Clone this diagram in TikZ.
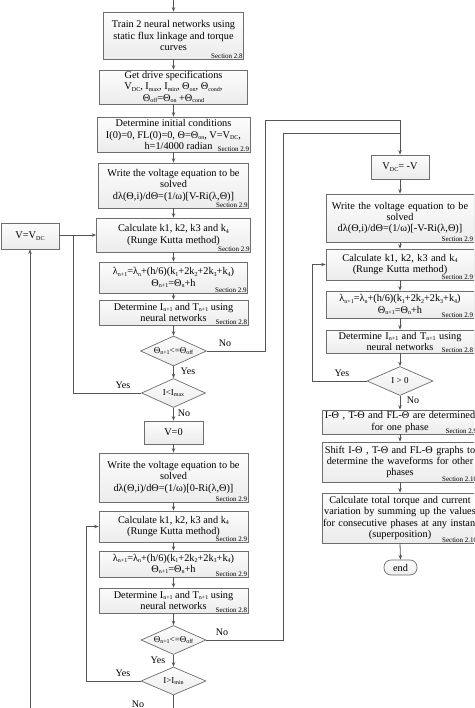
\documentclass[tikz,border=0pt]{standalone}
\usepackage{fontspec}
\setmainfont{Liberation Serif}
\usetikzlibrary{shapes.geometric,arrows.meta}
\definecolor{boxc}{HTML}{6E6E6E}
\definecolor{linec}{HTML}{555555}
\newcommand\ssb[1]{\raisebox{-1.4pt}{\fontsize{6}{6}\selectfont #1}}
\begin{document}
\begin{tikzpicture}[x=1pt,y=-1pt,
 box/.style={draw=boxc, line width=0.7pt, top color=gray!2, bottom color=gray!15, align=center, inner sep=1pt, font=\fontsize{10.3}{11.3}\selectfont, text=black},
 rbox/.style={box, text width=#1},
 dia/.style={shape=diamond, aspect=2.3, draw=boxc, line width=0.7pt, top color=gray!2, bottom color=gray!15, inner sep=0pt, font=\fontsize{9}{10}\selectfont},
 sec/.style={anchor=south east, inner sep=1pt, font=\fontsize{7}{8}\selectfont},
 lbl/.style={font=\fontsize{10}{11}\selectfont, inner sep=0pt},
 arr/.style={draw=linec, line width=0.8pt, -{Stealth[length=4.5pt,width=3.5pt]}},
 ln/.style={draw=linec, line width=0.8pt}]
\useasboundingbox (0,0) rectangle (474,708);
\clip (0,0) rectangle (474,708);
% left column
\node[box, minimum width=140, minimum height=47] (b1) at (173.5,35.5) {Train 2 neural networks using\\static flux linkage and torque\\curves};
\node[sec] (s1) at (b1.south east) {Section 2.8};
\node[box, minimum width=148, minimum height=34] (b2) at (173.5,87) {Get drive specifications\\V\ssb{DC}, I\ssb{max}, I\ssb{min}, Θ\ssb{on}, Θ\ssb{cond},\\Θ\ssb{off}=Θ\ssb{on} +Θ\ssb{cond}};
\node[box, minimum width=153, minimum height=35] (b3) at (173.5,134.5) {Determine initial conditions\\I(0)=0, FL(0)=0, Θ=Θ\ssb{on}, V=V\ssb{DC},\\\hspace*{10pt}h=1/4000 radian};
\node[sec] (s3) at (b3.south east) {Section 2.9};
\node[box, minimum width=150, minimum height=45] (b4) at (173.5,185.5) {Write the voltage equation to be\\solved\\dλ(Θ,i)/dΘ=(1/ω)[V-Ri(λ,Θ)]};
\node[sec] (s4) at (b4.south east) {Section 2.9};
\node[box, minimum width=154, minimum height=34] (b5) at (173.5,235) {Calculate k1, k2, k3 and k\ssb{4}\\(Runge Kutta method)};
\node[sec] (s5) at (b5.south east) {Section 2.9};
\node[box, minimum width=148, minimum height=31] (b6) at (173.5,277.5) {λ\ssb{n+1}=λ\ssb{n}+(h/6)(k\ssb{1}+2k\ssb{2}+2k\ssb{3}+k\ssb{4})\\Θ\ssb{n+1}=Θ\ssb{n}+h};
\node[sec] (s6) at (b6.south east) {Section 2.9};
\node[box, minimum width=149, minimum height=25] (b7) at (173.5,312.5) {Determine I\ssb{n+1} and T\ssb{n+1} using\\neural networks};
\node[sec] (s7) at (b7.south east) {Section 2.8};
\node[dia, minimum width=66, minimum height=30] (d1) at (173.5,351) {Θ\ssb{n+1}<=Θ\ssb{off}};
\node[dia, minimum width=64, minimum height=29] (d2) at (173.5,393) {I<I\ssb{max}};
\node[box, minimum width=59, minimum height=23] (b8) at (173.5,432.5) {V=0};
\node[box, minimum width=149, minimum height=49] (b9) at (173.5,477.5) {Write the voltage equation to be\\solved\\dλ(Θ,i)/dΘ=(1/ω)[0-Ri(λ,Θ)]};
\node[sec] (s9) at (b9.south east) {Section 2.9};
\node[box, minimum width=149, minimum height=31] (b10) at (173.5,526.5) {Calculate k1, k2, k3 and k\ssb{4}\\(Runge Kutta method)};
\node[sec] (s10) at (b10.south east) {Section 2.9};
\node[box, minimum width=149, minimum height=26] (b11) at (173.5,564) {λ\ssb{n+1}=λ\ssb{n}+(h/6)(k\ssb{1}+2k\ssb{2}+2k\ssb{3}+k\ssb{4})\\Θ\ssb{n+1}=Θ\ssb{n}+h};
\node[sec] (s11) at (b11.south east) {Section 2.9};
\node[box, minimum width=149, minimum height=25] (b12) at (173.5,600.5) {Determine I\ssb{n+1} and T\ssb{n+1} using\\neural networks};
\node[sec] (s12) at (b12.south east) {Section 2.8};
\node[dia, minimum width=65, minimum height=29] (d3) at (173.5,640) {Θ\ssb{n+1}<=Θ\ssb{off}};
\node[dia, minimum width=65, minimum height=28] (d4) at (173.5,681) {I>I\ssb{min}};
\node[box, minimum width=58, minimum height=26] (v0) at (30,236) {V=V\ssb{DC}};
% right column
\node[box, minimum width=58, minimum height=24] (r1) at (400,167) {V\ssb{DC}= -V};
\node[rbox=146, minimum height=48] (r2) at (400,218) {Write the voltage equation to be\\solved\\dλ(Θ,i)/dΘ=(1/ω)[-V-Ri(λ,Θ)]};
\node[sec] (t2) at (r2.south east) {Section 2.9};
\node[rbox=146, minimum height=31] (r3) at (400,264.5) {Calculate k1, k2, k3 and k\ssb{4}\\(Runge Kutta method)};
\node[sec] (t3) at (r3.south east) {Section 2.9};
\node[rbox=146, minimum height=27] (r4) at (400,304.5) {λ\ssb{n+1}=λ\ssb{n}+(h/6)(k\ssb{1}+2k\ssb{2}+2k\ssb{3}+k\ssb{4})\\Θ\ssb{n+1}=Θ\ssb{n}+h};
\node[sec] (t4) at (r4.south east) {Section 2.9};
\node[rbox=146, minimum height=23] (r5) at (400,341.5) {Determine I\ssb{n+1} and T\ssb{n+1} using\\neural networks};
\node[sec] (t5) at (r5.south east) {Section 2.8};
\node[dia, minimum width=66, minimum height=29] (d5) at (400,381) {I > 0};
\node[rbox=154, minimum height=24] (r6) at (400,422) {\mbox{I-Θ , T-Θ and FL-Θ are determined}\\for one phase};
\node[sec] (t6) at (r6.south east) {Section 2.9};
\node[rbox=154, minimum height=40] (r7) at (400,462) {\mbox{Shift I-Θ , T-Θ and FL-Θ graphs to}\\\mbox{determine the waveforms for other}\\phases};
\node[sec] (t7) at (r7.south east) {Section 2.10};
\node[rbox=154, minimum height=50] (r8) at (400,518) {Calculate total torque and current\\\mbox{variation by summing up the values}\\\mbox{for consecutive phases at any instant}\\(superposition)};
\node[sec] (t8) at (r8.south east) {Section 2.10};
\node[box, rounded corners=7pt, minimum width=33, minimum height=15, inner sep=0pt] (e) at (400.5,567.5) {end};
% coordinates
\coordinate (top) at (173.5,-5);
\coordinate (bm) at (173.5,720);
\coordinate (bl) at (30,720);
\coordinate (j1) at (265,120);
\coordinate (j2) at (400,120);
\coordinate (j3) at (283,133);
\coordinate (j4) at (400,133);
\coordinate (j5) at (73,235);
\coordinate (j6) at (86,526.5);
\coordinate (j7) at (312,264.5);
% connectors left
\draw[arr] (top) -- (b1.north);
\draw[arr] (b1.south) -- (b2.north);
\draw[arr] (b2.south) -- (b3.north);
\draw[arr] (b3.south) -- (b4.north);
\draw[arr] (b4.south) -- (b5.north);
\draw[arr] (b5.south) -- (b6.north);
\draw[arr] (b6.south) -- (b7.north);
\draw[arr] (b7.south) -- (d1.north);
\draw[arr] (d1.south) -- (d2.north);
\draw[arr] (d2.south) -- (b8.north);
\draw[arr] (b8.south) -- (b9.north);
\draw[arr] (b9.south) -- (b10.north);
\draw[arr] (b10.south) -- (b11.north);
\draw[arr] (b11.south) -- (b12.north);
\draw[arr] (b12.south) -- (d3.north);
\draw[arr] (d3.south) -- (d4.north);
\draw[ln] (d4.south) -- (bm);
\draw[arr] (bl) -- (v0.south);
\draw[arr] (v0.east |- b5.west) -- (b5.west);
\draw[ln] (d2.west) -| (j5);
\draw[arr] (d4.west) -| (j6) -- (b10.west);
\draw[arr] (d1.east) -| (j1) -- (j2) -- (r1.north);
\draw[ln] (d3.east) -| (j3) -- (j4);
% connectors right
\draw[arr] (r1.south) -- (r2.north);
\draw[arr] (r2.south) -- (r3.north);
\draw[arr] (r3.south) -- (r4.north);
\draw[arr] (r4.south) -- (r5.north);
\draw[arr] (r5.south) -- (d5.north);
\draw[arr] (d5.south) -- (r6.north);
\draw[arr] (r6.south) -- (r7.north);
\draw[arr] (r7.south) -- (r8.north);
\draw[arr] (r8.south) -- (e.north);
\draw[arr] (d5.west) -| (j7) -- (r3.west);
% labels
\node[lbl] (l1) at (225,343) {No};
\node[lbl] (l2) at (188,371) {Yes};
\node[lbl] (l3) at (123,385) {Yes};
\node[lbl] (l4) at (184,413) {No};
\node[lbl] (l5) at (222,632) {No};
\node[lbl] (l6) at (158,660) {Yes};
\node[lbl] (l7) at (123,673) {Yes};
\node[lbl] (l8) at (138,704) {No};
\node[lbl] (l9) at (342,373) {Yes};
\node[lbl] (l10) at (413,400) {No};
\end{tikzpicture}
\end{document}
